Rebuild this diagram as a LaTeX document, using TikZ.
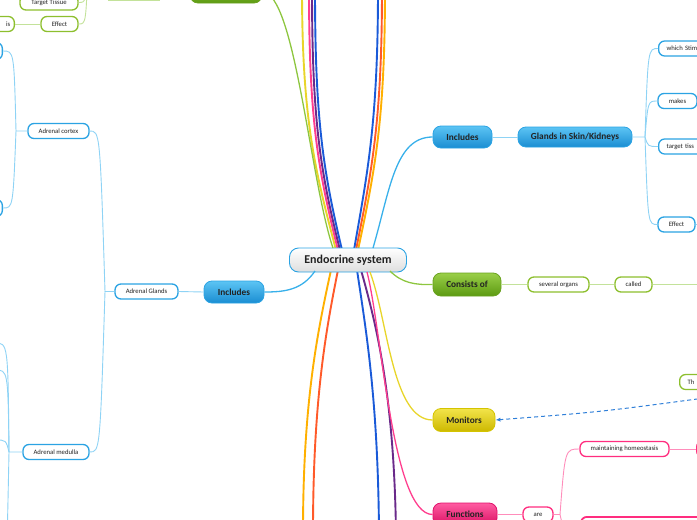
\documentclass[tikz,border=0pt]{standalone}
\usepackage{fontspec}
\setmainfont{Carlito}
\usetikzlibrary{arrows.meta}
\definecolor{bmain}{HTML}{38B0EA}
\definecolor{bsub}{HTML}{8ED3F5}
\definecolor{bbord}{HTML}{2BA3E3}
\definecolor{gmain}{HTML}{8DC63F}
\definecolor{gsub}{HTML}{C3E29A}
\definecolor{gbord}{HTML}{8DBF2E}
\definecolor{pmain}{HTML}{FF3E8E}
\definecolor{psub}{HTML}{FF8DBB}
\definecolor{pbord}{HTML}{FF2D7F}
\definecolor{ymain}{HTML}{E8D52A}
\definecolor{cpurple}{HTML}{6A2A8A}
\definecolor{cdblue}{HTML}{1A5AD8}
\definecolor{corange}{HTML}{FFB000}
\definecolor{cred}{HTML}{FF5A2A}
\definecolor{dashblue}{HTML}{2F7FD8}
\definecolor{txt}{HTML}{222222}
\definecolor{btopA}{HTML}{5CC4F4}
\definecolor{btopB}{HTML}{1A8DD2}
\definecolor{gtopD}{HTML}{6AA220}
\definecolor{gtopA}{HTML}{9ACF48}
\definecolor{gtopB}{HTML}{5C9A12}
\definecolor{ytopD}{HTML}{D4C400}
\definecolor{ytopA}{HTML}{F2E44A}
\definecolor{ytopB}{HTML}{CDB800}
\definecolor{ptopD}{HTML}{E0106A}
\definecolor{ptopA}{HTML}{FF5CA2}
\definecolor{ptopB}{HTML}{D80F60}
\begin{document}
\begin{tikzpicture}[x=1pt,y=-1pt,
  central/.style={draw=bbord, line width=0.9pt, rounded corners=9pt, top color=white, bottom color=black!13,
    minimum width=117pt, minimum height=24pt, inner sep=0pt, font=\fontsize{12}{13}\selectfont\bfseries, text=txt},
  topic/.style={rounded corners=8pt, minimum height=22pt, inner sep=0pt, line width=0.8pt,
    font=\fontsize{9.3}{10}\selectfont\bfseries, text=txt},
  btopic/.style={topic, draw=bbord, top color=btopA, bottom color=btopB},
  gtopic/.style={topic, draw=gtopD, top color=gtopA, bottom color=gtopB},
  ytopic/.style={topic, draw=ytopD, top color=ytopA, bottom color=ytopB},
  ptopic/.style={topic, draw=ptopD, top color=ptopA, bottom color=ptopB},
  sub/.style={draw, fill=white, rounded corners=6pt, line width=1.3pt, minimum height=15pt, inner sep=0pt,
    font=\fontsize{6.7}{7.5}\selectfont, text=txt},
  bsubn/.style={sub, draw=bbord},
  gsubn/.style={sub, draw=gbord},
  psubn/.style={sub, draw=pbord},
  mline/.style={line width=1.3pt},
  longline/.style={line width=1.9pt},
  sline/.style={line width=0.9pt},
]
\useasboundingbox (0,0) rectangle (697,520);
\clip (0,0) rectangle (697,520);

% ---------- coordinates for off-picture ends ----------
\coordinate (tY) at (302,-12);
\coordinate (tP) at (309,-12);
\coordinate (tU) at (312,-12);
\coordinate (tB) at (315,-12);
\coordinate (tB2) at (378,-12);
\coordinate (tR) at (382,-12);
\coordinate (tO) at (385,-12);
\coordinate (bO) at (303,532);
\coordinate (bR) at (313,532);
\coordinate (bB) at (379,532);
\coordinate (bU) at (396,532);

% ---------- long curves (behind central node) ----------
\draw[longline, ymain] (336,250) .. controls (315,170) and (302,120) .. (tY);
\draw[longline, pmain] (338,250) .. controls (318,170) and (309,120) .. (tP);
\draw[longline, cpurple] (340,250) .. controls (320,170) and (312,120) .. (tU);
\draw[longline, cdblue] (342,250) .. controls (323,170) and (315,120) .. (tB);
\draw[longline, cdblue] (354,250) .. controls (368,170) and (378,120) .. (tB2);
\draw[longline, cred] (356,250) .. controls (372,170) and (382,120) .. (tR);
\draw[longline, corange] (358,250) .. controls (375,170) and (385,120) .. (tO);
\draw[longline, corange] (331,270) .. controls (318,330) and (303,400) .. (bO);
\draw[longline, cred] (338,270) .. controls (326,330) and (313,400) .. (bR);
\draw[longline, cdblue] (357,270) .. controls (366,330) and (378,400) .. (bB);
\draw[longline, cpurple] (361,270) .. controls (378,330) and (394,400) .. (bU);

% ---------- nodes ----------
\node[central] (es) at (348,260) {Endocrine system};

\node[gtopic, minimum width=72pt] (gtop) at (226,-8) {};
\node[gsubn, minimum width=58pt] (tt) at (49,2.5) {Target Tissue};
\node[gsubn, minimum width=37pt] (eff1) at (59.5,24) {Effect};
\node[gsubn, anchor=east, text width=50pt, align=right, inner xsep=4pt] (isn) at (15,24) {is};
\coordinate (gb) at (88,-40);
\coordinate (gl1) at (108,0.6);
\coordinate (gl2) at (160,0.6);

\node[btopic, minimum width=60pt] (incL) at (234,292) {Includes};
\node[bsubn, minimum width=63pt] (aglands) at (146.5,291.5) {Adrenal Glands};
\node[bsubn, minimum width=61pt] (acortex) at (58.5,131) {Adrenal cortex};
\node[bsubn, minimum width=66pt] (amed) at (56,452) {Adrenal medulla};
\node[bsubn, anchor=east, minimum width=50pt, minimum height=17pt] (lb1) at (3,51) {};
\node[bsubn, anchor=east, minimum width=50pt, minimum height=17pt] (lb2) at (3,208) {};
\coordinate (lc1) at (-5,343);
\coordinate (lc2) at (-5,370);
\coordinate (lc3) at (-5,440);
\coordinate (lc4) at (-5,600);

\node[btopic, minimum width=59pt] (incR) at (462.5,137) {Includes};
\node[btopic, minimum width=114pt, minimum height=20pt] (glands) at (575,137) {Glands in Skin/Kidneys};
\node[bsubn, anchor=west, text width=52pt, align=left, inner xsep=8pt] (ws) at (658,48.5) {which Stim};
\node[bsubn, minimum width=39pt] (makes) at (677.5,101) {makes};
\node[bsubn, anchor=west, text width=52pt, align=left, inner xsep=8pt] (ts) at (658,146.5) {target tiss};
\node[bsubn, minimum width=37pt] (effR) at (676.5,224.5) {Effect};
\coordinate (effRend) at (712,224.5);

\node[gtopic, minimum width=68pt, minimum height=23pt] (cons) at (467,284.5) {Consists of};
\node[gsubn, minimum width=61pt] (sev) at (558.5,284.5) {several organs};
\node[gsubn, minimum width=37pt] (called) at (633.5,284.5) {called};
\coordinate (calledend) at (712,284.5);
\node[gsubn, anchor=west, text width=30pt, align=left, inner xsep=8pt] (th) at (679,382) {Th};

\node[ytopic, minimum width=62pt, minimum height=23pt] (mon) at (464,420) {Monitors};
\coordinate (dstart) at (712,397);

\node[ptopic, minimum width=64pt, minimum height=23pt] (fun) at (465,514.5) {Functions};
\node[psubn, minimum width=30pt] (are) at (538,514.5) {are};
\node[psubn, minimum width=89pt] (mh) at (624.5,449) {maintaining homeostasis};
\node[psubn, anchor=west, minimum width=40pt, minimum height=16pt] (pr) at (696,449) {};
\node[psubn, anchor=north west, minimum width=200pt, minimum height=40pt, line width=1.8pt] (pb) at (580,516) {};

% ---------- connectors ----------
\coordinate (esg) at (333,248);
\draw[mline, gmain] (esg) .. controls (310,180) and (295,-8) .. (gtop.east);
\draw[mline, bmain] (373,248) .. controls (390,190) and (395,137) .. (incR.west);
\draw[mline, bmain] (315,271) .. controls (302,290) and (285,292) .. (incL.east);
\draw[mline, gmain] (390,271) .. controls (402,283) and (415,285) .. (cons.west);
\draw[mline, ymain] (370,272) .. controls (388,320) and (392,420) .. (mon.west);
\draw[mline, pmain] (367,272) .. controls (382,330) and (392,514.5) .. (fun.west);

% green top-left
\draw[sline, gsub] (eff1.west) -- (isn.east);
\draw[sline, gsub] (gb) .. controls (86,24) .. (eff1.east);
\draw[sline, gsub] (gb) .. controls (86,2.5) .. (tt.east);
\draw[line width=1.4pt, gsub] (gl1) -- (gl2);

% left blue
\draw[sline, bsub] (incL.west) -- (aglands.east);
\draw[sline, bsub] (aglands.west) -- (105,291.5) .. controls (100,131) .. (acortex.east);
\draw[sline, bsub] (105,291.5) .. controls (100,452) .. (amed.east);
\draw[sline, bsub] (acortex.west) -- (16,131) .. controls (14,51) .. (lb1.east);
\draw[sline, bsub] (16,131) .. controls (13,208) .. (lb2.east);
\draw[sline, bsub] (amed.west) -- (9,452) .. controls (8,343) .. (lc1);
\draw[sline, bsub] (9,452) .. controls (8,370) .. (lc2);
\draw[sline, bsub] (9,452) .. controls (6,440) .. (lc3);
\draw[sline, bsub] (9,452) .. controls (6,600) .. (lc4);

% right blue
\draw[sline, bsub] (incR.east) -- (glands.west);
\draw[sline, bsub] (glands.east) -- (645,137) .. controls (648,48.5) .. (ws.west);
\draw[sline, bsub] (645,137) .. controls (648,101) .. (makes.west);
\draw[sline, bsub] (645,137) .. controls (648,146.5) .. (ts.west);
\draw[sline, bsub] (645,137) .. controls (648,224.5) .. (effR.west);
\draw[sline, bsub] (effR.east) -- (effRend);

% consists
\draw[gsub, line width=1.3pt] (cons.east) -- (sev.west);
\draw[gsub, line width=1.3pt] (sev.east) -- (called.west);
\draw[gsub, line width=1.3pt] (called.east) -- (calledend);

% dashed
\draw[dashblue, line width=1pt, dash pattern=on 4pt off 3pt, -{Latex[length=5pt,width=4pt]}] (dstart) .. controls (600,412) .. (mon.east);

% functions
\draw[sline, psub] (fun.east) -- (are.west);
\draw[sline, psub] (are.east) -- (560,514.5) .. controls (565,449) .. (mh.west);
\draw[sline, psub] (560,514.5) .. controls (565,536) .. (pb.west);
\draw[sline, psub] (mh.east) -- (pr.west);
\end{tikzpicture}
\end{document}
